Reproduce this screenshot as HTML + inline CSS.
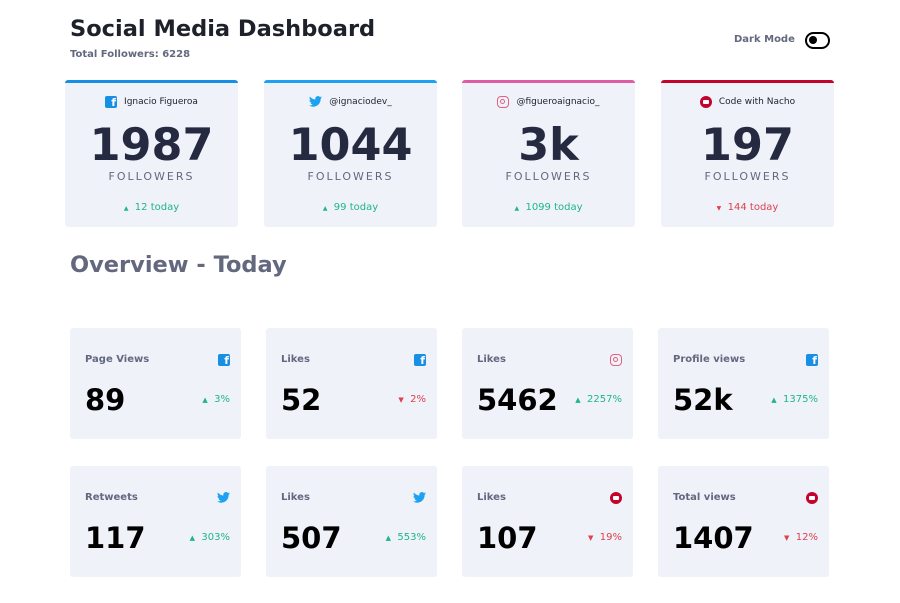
<!DOCTYPE html>
<html><head><meta charset="utf-8"><style>
*{box-sizing:border-box;margin:0;padding:0}
body{width:900px;height:603px;background:#fff;font-family:"DejaVu Sans","Liberation Sans",sans-serif;position:relative;overflow:hidden}
.abs{position:absolute}
h1{position:absolute;left:70px;top:16px;font-size:22.5px;font-weight:bold;color:#1e202a}
.sub{left:70px;top:49px;font-size:10px;font-weight:bold;color:#63687e}
.dm{left:734px;top:34px;font-size:10px;font-weight:bold;color:#63687e}
.tog{left:805px;top:32px;width:25px;height:17px;border:2.5px solid #000;border-radius:9px}
.tog::after{content:"";position:absolute;left:2px;top:2px;width:8px;height:8px;border-radius:50%;background:#000}
.card{position:absolute;top:80px;width:173px;height:147px;background:#f0f2fa;border-top:3px solid #1da1f2;border-radius:3px;text-align:center}
.card .hd{position:absolute;top:13px;left:0;right:0;font-size:9px;color:#1e202a;display:flex;justify-content:center;align-items:center;gap:7px}
.card .num{position:absolute;top:37px;left:0;right:0;font-size:44.5px;font-weight:bold;color:#252a41}
.card .fl{position:absolute;top:87px;left:0;right:0;font-size:11px;letter-spacing:2px;color:#63687e}
.card .td{position:absolute;top:119px;left:0;right:0;font-size:10px}
.up{color:#1eb589}.dn{color:#dc414c}
.ico{display:inline-block;width:12px;height:12px;border-radius:2px;position:relative}
.fb{background:#178fe5;color:#fff;font-weight:bold;font-size:11px;line-height:13px;text-align:right;padding-right:1px}
.ig{border:1.5px solid #e0627f;border-radius:4px}
.ig::after{content:"";position:absolute;left:2px;top:2px;width:5px;height:5px;border:1.5px solid #e0627f;border-radius:50%;box-sizing:border-box}
.yt{background:#c4032b;border-radius:50%}
.yt::after{content:"";position:absolute;left:3px;top:4px;width:6px;height:4px;background:#fff;border-radius:1px}
.tw{display:inline-block;width:13px;height:11px}
.ov{left:70px;top:252px;font-size:22.5px;font-weight:bold;color:#63687e}
.sc{position:absolute;width:171px;height:111px;background:#f0f2fa;border-radius:3px}
.sc .lb{position:absolute;left:15px;top:26px;font-size:10px;font-weight:bold;color:#63687e}
.sc .ic{position:absolute;right:11px;top:26px}
.sc .v{position:absolute;left:15px;top:55px;font-size:29px;font-weight:bold;color:#000}
.sc .p{position:absolute;right:11px;top:66px;font-size:10px}
</style></head><body>
<svg width="0" height="0" style="position:absolute"><defs><symbol id="bird" viewBox="0 0 24 20"><path fill="#1da1f2" d="M24 2.4a9.8 9.8 0 0 1-2.8.8A4.9 4.9 0 0 0 23.300.5a9.9 9.9 0 0 1-3.1 1.2A4.9 4.9 0 0 0 11.8 6.2 14 14 0 0 1 1.7 1a4.9 4.9 0 0 0 1.5 6.6 4.9 4.9 0 0 1-2.2-.6 4.9 4.9 0 0 0 3.9 4.9 4.9 4.9 0 0 1-2.2.1 4.9 4.9 0 0 0 4.6 3.4A9.9 9.9 0 0 1 0 17.4 14 14 0 0 0 7.5 19.6c9.1 0 14-7.5 14-14v-.6A10 10 0 0 0 24 2.4z"/></symbol></defs></svg>
<h1>Social Media Dashboard</h1>
<div class="abs sub">Total Followers: 6228</div>
<div class="abs dm">Dark Mode</div>
<div class="abs tog"></div>

<div class="card" style="left:65px;border-top-color:#178fe5">
<div class="hd"><span class="ico fb">f</span>Ignacio Figueroa</div>
<div class="num">1987</div><div class="fl">FOLLOWERS</div>
<div class="td up"><span style="font-size:6px">▲</span>&nbsp;&nbsp;12 today</div></div>
<div class="card" style="left:264px;border-top-color:#1da1f2">
<div class="hd"><svg class="tw"><use href="#bird"/></svg>@ignaciodev_</div>
<div class="num">1044</div><div class="fl">FOLLOWERS</div>
<div class="td up"><span style="font-size:6px">▲</span>&nbsp;&nbsp;99 today</div></div>
<div class="card" style="left:462px;border-top-color:#df5ba2">
<div class="hd"><span class="ico ig"></span>@figueroaignacio_</div>
<div class="num">3k</div><div class="fl">FOLLOWERS</div>
<div class="td up"><span style="font-size:6px">▲</span>&nbsp;&nbsp;1099 today</div></div>
<div class="card" style="left:661px;border-top-color:#c4032b">
<div class="hd"><span class="ico yt"></span>Code with Nacho</div>
<div class="num">197</div><div class="fl">FOLLOWERS</div>
<div class="td dn"><span style="font-size:6px">▼</span>&nbsp;&nbsp;144 today</div></div>

<div class="abs ov">Overview - Today</div>

<div class="sc" style="left:70px;top:328px"><div class="lb">Page Views</div><span class="ic ico fb">f</span><div class="v">89</div><div class="p up"><span style="font-size:7px">▲</span>&nbsp;&nbsp;3%</div></div>
<div class="sc" style="left:266px;top:328px"><div class="lb">Likes</div><span class="ic ico fb">f</span><div class="v">52</div><div class="p dn"><span style="font-size:7px">▼</span>&nbsp;&nbsp;2%</div></div>
<div class="sc" style="left:462px;top:328px"><div class="lb">Likes</div><span class="ic ico ig"></span><div class="v">5462</div><div class="p up"><span style="font-size:7px">▲</span>&nbsp;&nbsp;2257%</div></div>
<div class="sc" style="left:658px;top:328px"><div class="lb">Profile views</div><span class="ic ico fb">f</span><div class="v">52k</div><div class="p up"><span style="font-size:7px">▲</span>&nbsp;&nbsp;1375%</div></div>

<div class="sc" style="left:70px;top:466px"><div class="lb">Retweets</div><svg class="ic tw"><use href="#bird"/></svg><div class="v">117</div><div class="p up"><span style="font-size:7px">▲</span>&nbsp;&nbsp;303%</div></div>
<div class="sc" style="left:266px;top:466px"><div class="lb">Likes</div><svg class="ic tw"><use href="#bird"/></svg><div class="v">507</div><div class="p up"><span style="font-size:7px">▲</span>&nbsp;&nbsp;553%</div></div>
<div class="sc" style="left:462px;top:466px"><div class="lb">Likes</div><span class="ic ico yt"></span><div class="v">107</div><div class="p dn"><span style="font-size:7px">▼</span>&nbsp;&nbsp;19%</div></div>
<div class="sc" style="left:658px;top:466px"><div class="lb">Total views</div><span class="ic ico yt"></span><div class="v">1407</div><div class="p dn"><span style="font-size:7px">▼</span>&nbsp;&nbsp;12%</div></div>
</body></html>
